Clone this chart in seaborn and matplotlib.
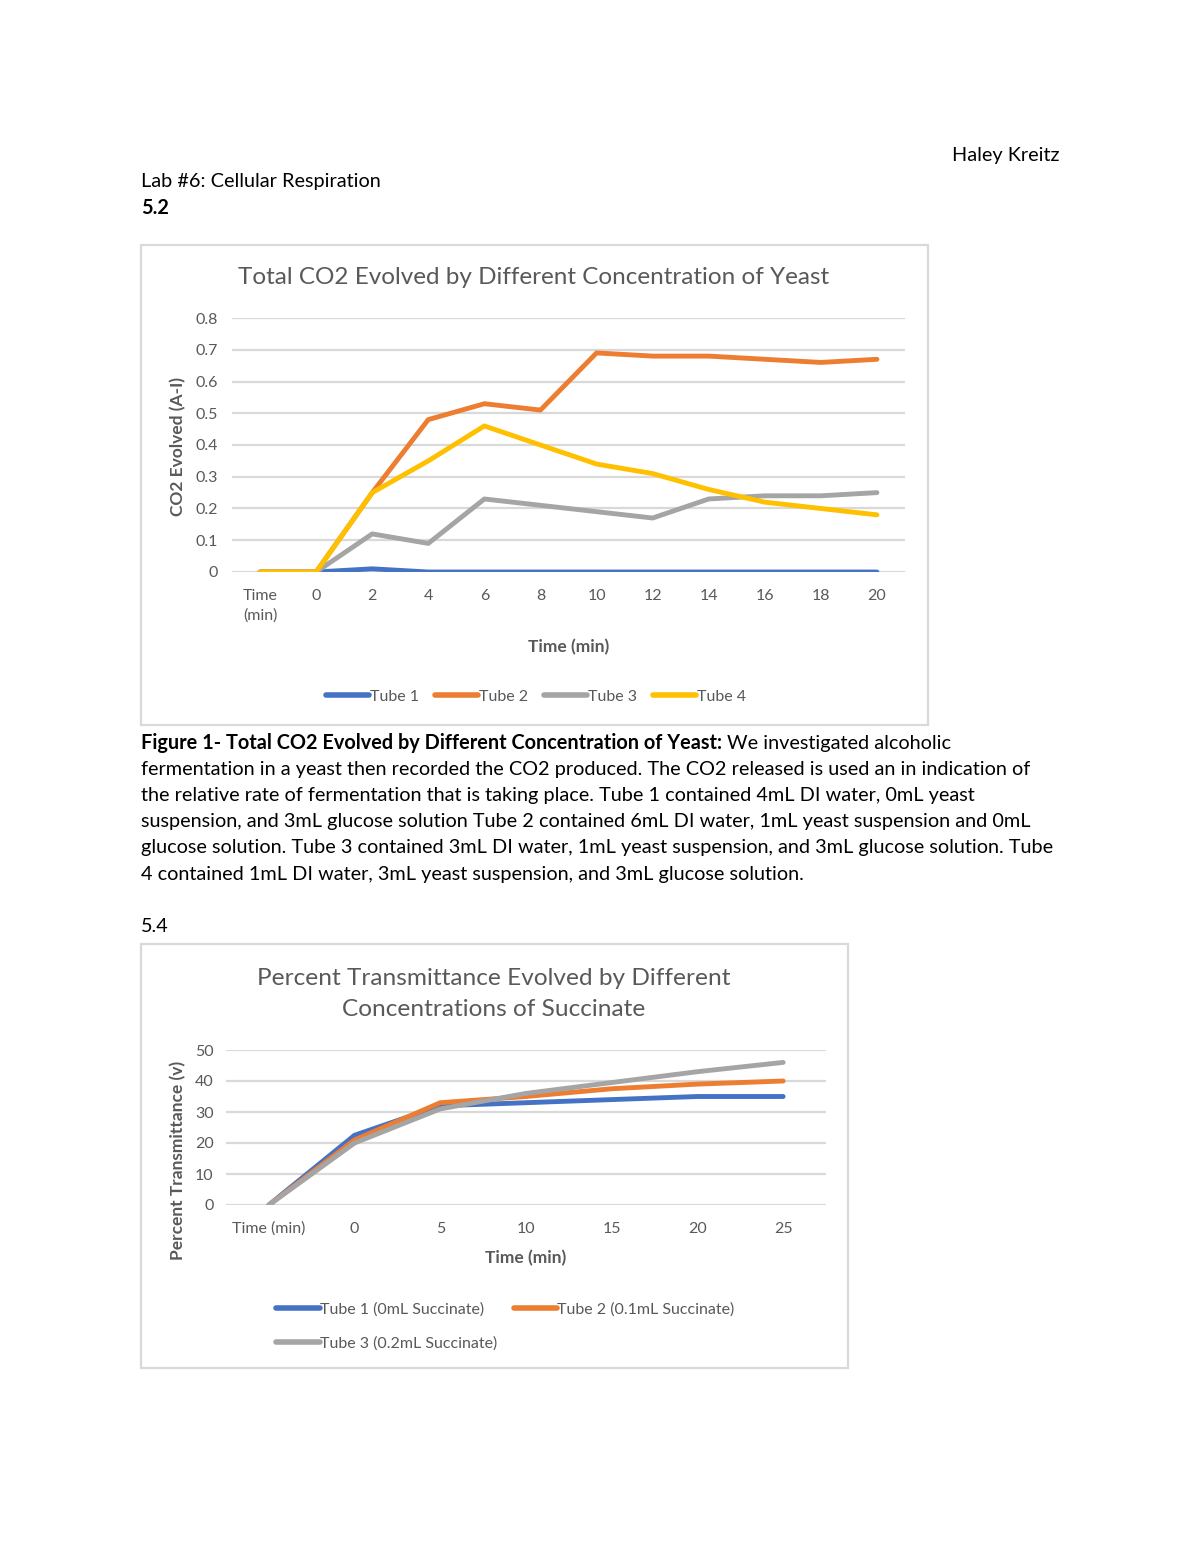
import matplotlib
matplotlib.use("Agg")
import matplotlib.pyplot as plt
import seaborn as sns
import pandas as pd
from matplotlib.patches import Rectangle

# ---------------- data ----------------
times1 = ["Time\n(min)", "0", "2", "4", "6", "8", "10", "12", "14", "16", "18", "20"]
tube1_co2 = [0, 0, 0.01, 0, 0, 0, 0, 0, 0, 0, 0, 0]
tube2_co2 = [0, 0, 0.25, 0.48, 0.53, 0.51, 0.69, 0.68, 0.68, 0.67, 0.66, 0.67]
tube3_co2 = [0, 0, 0.12, 0.09, 0.23, 0.21, 0.19, 0.17, 0.23, 0.24, 0.24, 0.25]
tube4_co2 = [0, 0, 0.25, 0.35, 0.46, 0.40, 0.34, 0.31, 0.26, 0.22, 0.20, 0.18]
series1 = ["Tube 1", "Tube 2", "Tube 3", "Tube 4"]
yticks1 = [0, 0.1, 0.2, 0.3, 0.4, 0.5, 0.6, 0.7, 0.8]

times2 = ["Time (min)", "0", "5", "10", "15", "20", "25"]
tube1_tr = [0, 22.5, 32, 33, 34, 35, 35]
tube2_tr = [0, 21, 33, 35, 37.5, 39, 40]
tube3_tr = [0, 20, 31, 36, 39.5, 43, 46]
series2 = ["Tube 1 (0mL Succinate)", "Tube 2 (0.1mL Succinate)", "Tube 3 (0.2mL Succinate)"]
yticks2 = [0, 10, 20, 30, 40, 50]

colors = ["#4472C4", "#ED7D31", "#A5A5A5", "#FFC000"]

# ---------------- style ----------------
sns.set_theme(style="white")
plt.rcParams['font.family'] = ['Lato', 'DejaVu Sans']
TXT = "#595959"
GRID = "#D9D9D9"

W, H = 1200, 1553
fig = plt.figure(figsize=(W / 100, H / 100), dpi=100)
fig.patch.set_facecolor("white")

def fx(x):
    return x / W

def fy(y):
    return 1 - y / H

def axrect(x0, y0, x1, y1):
    return [fx(x0), fy(y1), (x1 - x0) / W, (y1 - y0) / H]

# frames
for (x0, y0, x1, y1) in [(141, 245, 928, 725), (141, 944, 848, 1368)]:
    fig.add_artist(Rectangle((fx(x0), fy(y1)), (x1 - x0) / W, (y1 - y0) / H,
                             transform=fig.transFigure, fill=False,
                             edgecolor=GRID, lw=1.6))

# page text
BODY = 14.3
fig.text(fx(1059), fy(156), "Haley Kreitz", ha="right", va="center", fontsize=BODY, color="black")
fig.text(fx(141), fy(181), "Lab #6: Cellular Respiration", ha="left", va="center", fontsize=BODY, color="black")
fig.text(fx(141), fy(208), "5.2", ha="left", va="center", fontsize=BODY, color="black", fontweight="bold")
fig.text(fx(141), fy(927), "5.4", ha="left", va="center", fontsize=BODY, color="black")

TICK = 11.5

def style_axes(ax, yticks, xlabels, ypad, xpad):
    ax.set_ylim(yticks[0], yticks[-1])
    ax.set_yticks(yticks)
    ax.set_yticklabels([f"{t:g}" for t in yticks])
    ax.set_xlim(-0.5, len(xlabels) - 0.5)
    ax.set_xticks(range(len(xlabels)))
    ax.set_xticklabels(xlabels)
    for s in ax.spines.values():
        s.set_visible(False)
    ax.grid(axis="y", color=GRID, lw=1.6)
    ax.grid(axis="x", visible=False)
    ax.set_axisbelow(True)
    ax.tick_params(axis="both", length=0, colors=TXT, labelsize=TICK)
    ax.tick_params(axis="y", pad=ypad)
    ax.tick_params(axis="x", pad=xpad)
    for lab in ax.get_xticklabels():
        lab.set_linespacing(1.5)
    ax.set_facecolor("none")

LW = 3.5

# ---------------- chart 1 ----------------
ax1 = fig.add_axes(axrect(232, 318, 905, 572))
rows = []
for name, vals in zip(series1, [tube1_co2, tube2_co2, tube3_co2, tube4_co2]):
    for t, v in zip(times1, vals):
        rows.append({"Time": t, "CO2": v, "Tube": name})
df1 = pd.DataFrame(rows)
sns.lineplot(data=df1, x="Time", y="CO2", hue="Tube", hue_order=series1,
             palette=colors, lw=LW, ax=ax1, sort=False, legend=False)
style_axes(ax1, yticks1, times1, 10, 12)
ax1.set_xlabel("Time (min)", fontsize=12.5, fontweight="bold", color=TXT, labelpad=12)
ax1.set_ylabel("")
fig.text(fx(178), fy(446), "CO2 Evolved (A-I)", rotation=90, ha="center", va="center",
         fontsize=12.5, fontweight="bold", color=TXT)
fig.text(fx(534), fy(278), "Total CO2 Evolved by Different Concentration of Yeast",
         ha="center", va="center", fontsize=17.5, color=TXT)
h1 = [plt.Line2D([], [], color=c, lw=4) for c in colors]
fig.legend(h1, series1, loc="center", bbox_to_anchor=(fx(536), fy(697)), ncol=4,
           frameon=False, fontsize=11.5, labelcolor=TXT, handlelength=2.7,
           handletextpad=0.05, columnspacing=1.0)

# ---------------- chart 2 ----------------
ax2 = fig.add_axes(axrect(226, 1050, 826, 1205))
rows = []
for name, vals in zip(series2, [tube1_tr, tube2_tr, tube3_tr]):
    for t, v in zip(times2, vals):
        rows.append({"Time": t, "Trans": v, "Tube": name})
df2 = pd.DataFrame(rows)
sns.lineplot(data=df2, x="Time", y="Trans", hue="Tube", hue_order=series2,
             palette=colors[:3], lw=LW, ax=ax2, sort=False, legend=False)
style_axes(ax2, yticks2, times2, 9, 12)
ax2.set_xlabel("Time (min)", fontsize=12.5, fontweight="bold", color=TXT, labelpad=10)
ax2.set_ylabel("")
fig.text(fx(178), fy(1160), "Percent Transmittance (v)", rotation=90, ha="center", va="center",
         fontsize=12.5, fontweight="bold", color=TXT)
fig.text(fx(494), fy(994), "Percent Transmittance Evolved by Different\nConcentrations of Succinate",
         ha="center", va="center", fontsize=17.6, color=TXT, linespacing=1.55)
h2 = [plt.Line2D([], [], color=c, lw=4) for c in colors[:3]]
order = [0, 2, 1]
fig.legend([h2[i] for i in order], [series2[i] for i in order], loc="upper left",
           bbox_to_anchor=(fx(262), fy(1288)), ncol=2, frameon=False, fontsize=11.5,
           labelcolor=TXT, handlelength=2.7, handletextpad=0.05, columnspacing=1.0,
           labelspacing=1.2)

# ---------------- caption ----------------
renderer = fig.canvas.get_renderer()
bold_part = "Figure 1- Total CO2 Evolved by Different Concentration of Yeast:"
t0 = fig.text(fx(141), fy(743), bold_part, ha="left", va="center", fontsize=BODY,
              fontweight="bold", color="black")
bb = t0.get_window_extent(renderer)
fig.text(bb.x1 / W + 5 / W, fy(743), "We investigated alcoholic", ha="left", va="center",
         fontsize=BODY, color="black")
cap_lines = [
    "fermentation in a yeast then recorded the CO2 produced. The CO2 released is used an in indication of",
    "the relative rate of fermentation that is taking place. Tube 1 contained 4mL DI water, 0mL yeast",
    "suspension, and 3mL glucose solution Tube 2 contained 6mL DI water, 1mL yeast suspension and 0mL",
    "glucose solution. Tube 3 contained 3mL DI water, 1mL yeast suspension, and 3mL glucose solution. Tube",
    "4 contained 1mL DI water, 3mL yeast suspension, and 3mL glucose solution.",
]
for i, line in enumerate(cap_lines):
    fig.text(fx(141), fy(769 + i * 26.3), line, ha="left", va="center", fontsize=BODY, color="black")

fig.savefig("out.png", dpi=100, facecolor="white")
